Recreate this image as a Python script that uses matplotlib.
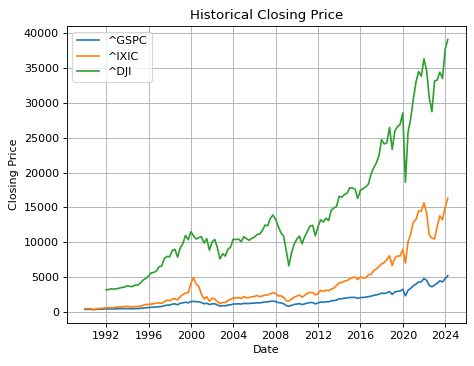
import pandas as pd
import matplotlib
matplotlib.use("Agg")
import matplotlib.pyplot as plt

# quarterly closing values (quarter ends), plus the first trading day
gspc_start = 359
gspc = [
    340, 360, 305, 330, 375, 370, 385, 417, 404, 408, 418, 436,
    451, 450, 459, 466, 446, 444, 463, 459, 501, 545, 584, 616,
    645, 671, 687, 741, 757, 885, 947, 970, 1102, 1134, 1017, 1229,
    1286, 1373, 1283, 1469, 1499, 1455, 1437, 1320, 1160, 1224, 1041, 1148,
    1147, 990, 815, 880, 848, 975, 996, 1112, 1126, 1141, 1115, 1212,
    1181, 1191, 1229, 1248, 1295, 1270, 1336, 1418, 1421, 1503, 1527, 1468,
    1322, 1280, 1166, 903, 798, 919, 1057, 1115, 1169, 1031, 1141, 1258,
    1326, 1321, 1131, 1258, 1408, 1362, 1441, 1426, 1569, 1606, 1682, 1848,
    1872, 1960, 1972, 2059, 2068, 2063, 1920, 2044, 2060, 2099, 2168, 2239,
    2363, 2423, 2519, 2674, 2641, 2718, 2914, 2507, 2834, 2942, 2977, 3231,
    2300, 3100, 3363, 3756, 3973, 4298, 4308, 4766, 4530, 3785, 3586, 3840,
    4109, 4450, 4288, 4770, 5200,
]

ixic_start = 459
ixic = [
    440, 460, 345, 375, 480, 475, 525, 585, 600, 565, 585, 675,
    690, 700, 760, 775, 745, 705, 765, 750, 815, 935, 1045, 1050,
    1100, 1185, 1225, 1290, 1220, 1440, 1685, 1570, 1835, 1895, 1695, 2190,
    2460, 2690, 2745, 4070, 4900, 3970, 3670, 2470, 1840, 2160, 1500, 1950,
    1845, 1460, 1170, 1335, 1340, 1620, 1790, 2000, 1995, 2050, 1900, 2175,
    2000, 2055, 2150, 2205, 2340, 2170, 2260, 2415, 2420, 2600, 2700, 2650,
    2280, 2290, 2090, 1580, 1530, 1835, 2120, 2270, 2400, 2110, 2370, 2650,
    2780, 2770, 2415, 2605, 3090, 2935, 3115, 3020, 3265, 3400, 3770, 4175,
    4200, 4410, 4490, 4740, 4900, 4990, 4620, 5010, 4870, 4840, 5310, 5380,
    5910, 6140, 6500, 6900, 7060, 7510, 8050, 6640, 7730, 8010, 7999, 8970,
    7000, 10060, 11170, 12890, 13250, 14500, 14450, 15650, 14220, 11030, 10575, 10470,
    12220, 13790, 13220, 15010, 16300,
]

dji_start = 3172
dji = [
    3200, 3300, 3250, 3300, 3400, 3500, 3550, 3750,
    3650, 3620, 3840, 3830, 4150, 4550, 4790, 5120,
    5590, 5650, 5880, 6450, 6580, 7670, 7950, 7900,
    8800, 8950, 7840, 9180, 9790, 10970, 10340, 11500,
    10920, 10450, 10650, 10790, 9880, 10500, 8850, 10020,
    10400, 9240, 7590, 8340, 7990, 8980, 9280, 10450,
    10360, 10440, 10080, 10780, 10500, 10270, 10570, 10720,
    11110, 11150, 11680, 12460, 12350, 13410, 13900, 13260,
    12260, 11350, 10850, 8780, 6600, 8450, 9710, 10430,
    10860, 9770, 10790, 11580, 12320, 12410, 10910, 12220,
    13210, 12880, 13440, 13100, 14580, 14910, 15130, 16580,
    16460, 16830, 17040, 17820, 17780, 17620, 16280, 17430,
    17690, 17930, 18310, 19760, 20660, 21350, 22410, 24720,
    24100, 24270, 26460, 23330, 25930, 26600, 26920, 28540,
    18600, 25810, 27780, 30610, 32980, 34500, 33840, 36340,
    34680, 30780, 28730, 33150, 33270, 34410, 33510, 37690,
    39100,
]

q_1990 = pd.date_range("1990-03-31", periods=len(gspc), freq="QE")
q_1992 = pd.date_range("1992-03-31", periods=len(dji), freq="QE")
dates_1990 = [pd.Timestamp("1990-01-02")] + list(q_1990)
dates_1992 = [pd.Timestamp("1992-01-02")] + list(q_1992)

# rendered at 80 dpi so text and lines come out at the reference's scale
fig, ax = plt.subplots(figsize=(474 / 80, 366 / 80), dpi=80)
ax.plot(dates_1990, [gspc_start] + gspc, label="^GSPC")
ax.plot(dates_1990, [ixic_start] + ixic, label="^IXIC")
ax.plot(dates_1992, [dji_start] + dji, label="^DJI")

ax.set_title("Historical Closing Price")
ax.set_xlabel("Date")
ax.set_ylabel("Closing Price")
ax.legend(loc="upper left")
ax.grid(True)

fig.subplots_adjust(left=0.141, right=0.983, top=0.929, bottom=0.117)
fig.savefig("out.png", dpi=80)
